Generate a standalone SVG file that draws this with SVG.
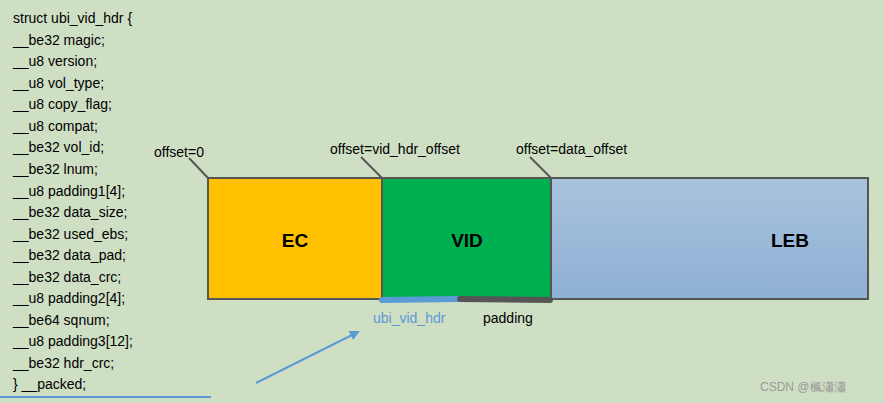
<svg xmlns="http://www.w3.org/2000/svg" width="884" height="403" viewBox="0 0 884 403">
<style>
.c{font-family:"Liberation Sans",Arial,sans-serif;font-size:14px;fill:#000}
.b{font-family:"Liberation Sans",Arial,sans-serif;font-size:19px;font-weight:bold;fill:#000;text-anchor:middle}
.l{stroke:#555;stroke-width:2;fill:none}
</style>
<defs>
<linearGradient id="g" x1="0" y1="0" x2="0" y2="1"><stop offset="0" stop-color="#a9c3de"/><stop offset="1" stop-color="#8eb0d4"/></linearGradient>
<marker id="a" markerWidth="10" markerHeight="10" refX="8" refY="5" orient="auto" markerUnits="userSpaceOnUse"><path d="M0,0L10,5L0,10z" fill="#5b9bd5"/></marker>
</defs>
<rect width="884" height="403" fill="#cfdfc4"/>
<g id="code" class="c">
<text x="13" y="23">struct ubi_vid_hdr {</text>
<text x="13" y="45">__be32  magic;</text>
<text x="13" y="66">__u8    version;</text>
<text x="13" y="88">__u8    vol_type;</text>
<text x="13" y="109">__u8    copy_flag;</text>
<text x="13" y="131">__u8    compat;</text>
<text x="13" y="152">__be32  vol_id;</text>
<text x="13" y="174">__be32  lnum;</text>
<text x="13" y="196">__u8    padding1[4];</text>
<text x="13" y="217">__be32  data_size;</text>
<text x="13" y="239">__be32  used_ebs;</text>
<text x="13" y="260">__be32  data_pad;</text>
<text x="13" y="282">__be32  data_crc;</text>
<text x="13" y="303">__u8    padding2[4];</text>
<text x="13" y="325">__be64  sqnum;</text>
<text x="13" y="346">__u8    padding3[12];</text>
<text x="13" y="368">__be32  hdr_crc;</text>
<text x="13" y="389">} __packed;</text>
</g>
<line x1="0" y1="397" x2="211" y2="397" stroke="#5b9bd5" stroke-width="2"/>
<g id="ec"><rect x="208" y="178" width="174" height="121" fill="#ffc000" stroke="#555" stroke-width="2"/><text class="b" x="295" y="247">EC</text></g>
<g id="vid"><rect x="382" y="178" width="169" height="121" fill="#00b050" stroke="#555" stroke-width="2"/><text class="b" x="467" y="247">VID</text></g>
<g id="leb"><rect x="551" y="178" width="317" height="121" fill="url(#g)" stroke="#555" stroke-width="2"/><text class="b" x="790" y="247">LEB</text></g>
<g id="labels" class="c">
<text x="154" y="157">offset=0</text>
<text x="330" y="154">offset=vid_hdr_offset</text>
<text x="516" y="154">offset=data_offset</text>
<text x="373" y="323" fill="#5b9bd5" style="fill:#5b9bd5">ubi_vid_hdr</text>
<text x="483" y="323">padding</text>
<text x="760" y="391" style="fill:#999;font-size:12px">CSDN @楓瀟瀟</text>
</g>
<g id="connectors">
<line class="l" x1="189" y1="158" x2="208" y2="178"/>
<line class="l" x1="361" y1="157" x2="382" y2="178"/>
<line class="l" x1="530" y1="157" x2="551" y2="178"/>
<line x1="382" y1="300" x2="458" y2="299" stroke="#5b9bd5" stroke-width="6" stroke-linecap="round"/>
<line x1="460" y1="299" x2="550" y2="300" stroke="#555" stroke-width="6" stroke-linecap="round"/>
<line x1="256" y1="383" x2="358" y2="332" stroke="#5b9bd5" stroke-width="2" marker-end="url(#a)"/>
</g>
</svg>
